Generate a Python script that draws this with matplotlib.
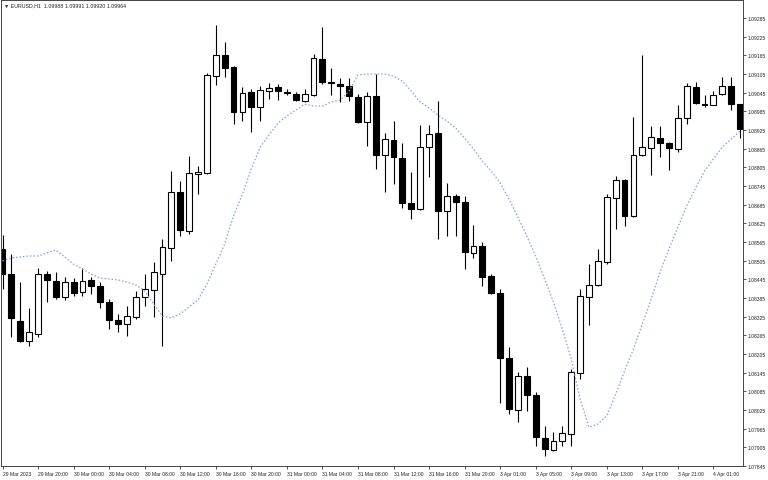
import matplotlib.pyplot as plt
import numpy as np

# EURUSD H1 candles
opens = [1.08543, 1.08462, 1.08311, 1.08247, 1.08269, 1.08462, 1.08440, 1.08388, 1.08436, 1.08404,
         1.08443, 1.08424, 1.08372, 1.08314, 1.08301, 1.08324, 1.08388, 1.08411, 1.08462, 1.08546,
         1.08726, 1.08600, 1.08783, 1.08787, 1.09098, 1.09166, 1.09127, 1.08983, 1.09047, 1.08999,
         1.09050, 1.09063, 1.09047, 1.09041, 1.09018, 1.09037, 1.09153, 1.09076, 1.09073, 1.09066,
         1.09031, 1.08951, 1.09034, 1.08845, 1.08893, 1.08835, 1.08690, 1.08671, 1.08870, 1.08915,
         1.08665, 1.08713, 1.08694, 1.08530, 1.08552, 1.08456, 1.08401, 1.08192, 1.08025, 1.08134,
         1.08073, 1.07935, 1.07897, 1.07925, 1.07948, 1.08144, 1.08388, 1.08427, 1.08501, 1.08706,
         1.08764, 1.08649, 1.08845, 1.08867, 1.08899, 1.08883, 1.08864, 1.08963, 1.09063, 1.09008,
         1.09005, 1.09041, 1.09066, 1.09008]
highs = [1.08588, 1.08526, 1.08436, 1.08353, 1.08481, 1.08472, 1.08469, 1.08453, 1.08449, 1.08481,
         1.08453, 1.08436, 1.08382, 1.08334, 1.08359, 1.08408, 1.08462, 1.08501, 1.08575, 1.08793,
         1.08761, 1.08841, 1.08809, 1.09108, 1.09262, 1.09208, 1.09130, 1.09063, 1.09057, 1.09066,
         1.09076, 1.09073, 1.09057, 1.09047, 1.09057, 1.09169, 1.09256, 1.09124, 1.09092, 1.09092,
         1.09041, 1.09047, 1.09105, 1.08915, 1.08954, 1.08883, 1.08790, 1.08941, 1.08941, 1.09018,
         1.08755, 1.08719, 1.08713, 1.08620, 1.08565, 1.08462, 1.08414, 1.08227, 1.08147, 1.08163,
         1.08083, 1.07974, 1.07954, 1.07974, 1.08157, 1.08414, 1.08494, 1.08543, 1.08719, 1.08777,
         1.08767, 1.08967, 1.09166, 1.08938, 1.08938, 1.08886, 1.09005, 1.09076, 1.09079, 1.09037,
         1.09050, 1.09095, 1.09095, 1.09010]
lows = [1.08414, 1.08260, 1.08244, 1.08231, 1.08260, 1.08372, 1.08382, 1.08379, 1.08391, 1.08391,
        1.08398, 1.08353, 1.08285, 1.08276, 1.08263, 1.08317, 1.08359, 1.08324, 1.08231, 1.08504,
        1.08584, 1.08591, 1.08719, 1.08783, 1.09070, 1.09095, 1.08944, 1.08954, 1.08919, 1.08954,
        1.09025, 1.09021, 1.09037, 1.09018, 1.09015, 1.09034, 1.09073, 1.09037, 1.09015, 1.09018,
        1.08948, 1.08874, 1.08800, 1.08726, 1.08751, 1.08674, 1.08639, 1.08668, 1.08774, 1.08575,
        1.08584, 1.08584, 1.08478, 1.08514, 1.08424, 1.08398, 1.08048, 1.08012, 1.07987, 1.08022,
        1.07909, 1.07877, 1.07893, 1.07909, 1.07909, 1.08125, 1.08298, 1.08424, 1.08494, 1.08607,
        1.08616, 1.08645, 1.08841, 1.08780, 1.08838, 1.08796, 1.08854, 1.08944, 1.09008, 1.08999,
        1.09004, 1.09037, 1.08989, 1.08899]
closes = [1.08462, 1.08321, 1.08247, 1.08276, 1.08462, 1.08443, 1.08388, 1.08436, 1.08401, 1.08440,
          1.08424, 1.08372, 1.08314, 1.08301, 1.08327, 1.08388, 1.08414, 1.08469, 1.08549, 1.08726,
          1.08604, 1.08787, 1.08790, 1.09102, 1.09166, 1.09124, 1.08983, 1.09044, 1.08999, 1.09053,
          1.09060, 1.09050, 1.09044, 1.09021, 1.09041, 1.09156, 1.09079, 1.09078, 1.09066, 1.09034,
          1.08951, 1.09034, 1.08845, 1.08896, 1.08838, 1.08690, 1.08671, 1.08870, 1.08912, 1.08665,
          1.08713, 1.08694, 1.08533, 1.08552, 1.08453, 1.08401, 1.08192, 1.08028, 1.08134, 1.08073,
          1.07938, 1.07900, 1.07925, 1.07951, 1.08147, 1.08391, 1.08427, 1.08504, 1.08710, 1.08764,
          1.08649, 1.08845, 1.08870, 1.08902, 1.08883, 1.08867, 1.08963, 1.09066, 1.09012, 1.09005,
          1.09037, 1.09066, 1.09008, 1.08928]

# dotted moving average
ma = [1.08504, 1.08514, 1.08517, 1.08520, 1.08520, 1.08530, 1.08539, 1.08517, 1.08494, 1.08478,
      1.08462, 1.08449, 1.08446, 1.08443, 1.08436, 1.08427, 1.08408, 1.08366, 1.08327, 1.08321,
      1.08334, 1.08356, 1.08379, 1.08430, 1.08494, 1.08559, 1.08649, 1.08719, 1.08800, 1.08870,
      1.08909, 1.08947, 1.08970, 1.08989, 1.09008, 1.09002, 1.09002, 1.09015, 1.09021, 1.09050,
      1.09102, 1.09105, 1.09105, 1.09105, 1.09098, 1.09082, 1.09050, 1.09015, 1.08996, 1.08973,
      1.08954, 1.08931, 1.08899, 1.08864, 1.08825, 1.08793, 1.08755, 1.08703, 1.08645, 1.08584,
      1.08520, 1.08446, 1.08372, 1.08285, 1.08189, 1.08060, 1.07970, 1.07980, 1.08006, 1.08076,
      1.08150, 1.08221, 1.08301, 1.08382, 1.08469, 1.08543, 1.08613, 1.08681, 1.08739, 1.08793,
      1.08832, 1.08870, 1.08896, 1.08922]

time_labels = ["29 Mar 2023", "29 Mar 20:00", "30 Mar 00:00", "30 Mar 04:00", "30 Mar 08:00",
               "30 Mar 12:00", "30 Mar 16:00", "30 Mar 20:00", "31 Mar 00:00", "31 Mar 04:00",
               "31 Mar 08:00", "31 Mar 12:00", "31 Mar 16:00", "31 Mar 20:00", "3 Apr 01:00",
               "3 Apr 05:00", "3 Apr 09:00", "3 Apr 13:00", "3 Apr 17:00", "3 Apr 21:00",
               "4 Apr 01:00"]

header = "\u25bc EURUSD,H1  1.09988 1.09991 1.09920 1.09964"

plt.rcParams['font.family'] = ['Liberation Sans', 'DejaVu Sans']

fig = plt.figure(figsize=(7.68, 4.81), dpi=100)
ax = fig.add_axes([1 / 768, 14 / 481, 742 / 768, 466 / 481])

x = np.arange(len(opens))
o = np.array(opens)
c = np.array(closes)
cols = ['white' if cc >= oo else 'black' for oo, cc in zip(o, c)]

ax.vlines(x, lows, highs, color='black', lw=0.8, zorder=1)
ax.bar(x, np.abs(c - o), bottom=np.minimum(o, c), width=0.66, color=cols,
       edgecolor='black', linewidth=0.8, zorder=2)
ax.plot(x, ma, color='#7aa3e4', ls=(0, (1.2, 1.6)), lw=0.9, zorder=3)

ax.set_xlim(-0.17, 83.33)
ax.set_ylim(1.07845, 1.093429)

yt = np.arange(1.07845, 1.0929, 0.0006)
ax.yaxis.tick_right()
ax.set_yticks(yt)
ax.set_yticklabels([f"{v:.5f}" for v in yt])

ax.set_xticks(x[::4])
ax.set_xticklabels(time_labels)
for lbl in ax.get_xticklabels():
    lbl.set_horizontalalignment('left')

ax.tick_params(axis='both', length=2.2, width=0.6, labelsize=3.6, pad=1.2,
               colors='#333333', labelcolor='#222222')
for s in ax.spines.values():
    s.set_color('#444444')
    s.set_linewidth(0.7)

fig.text(4 / 768, 1 - 6 / 481, header, fontsize=3.8, va='center', color='#222222')

fig.savefig('out.png', dpi=100)
